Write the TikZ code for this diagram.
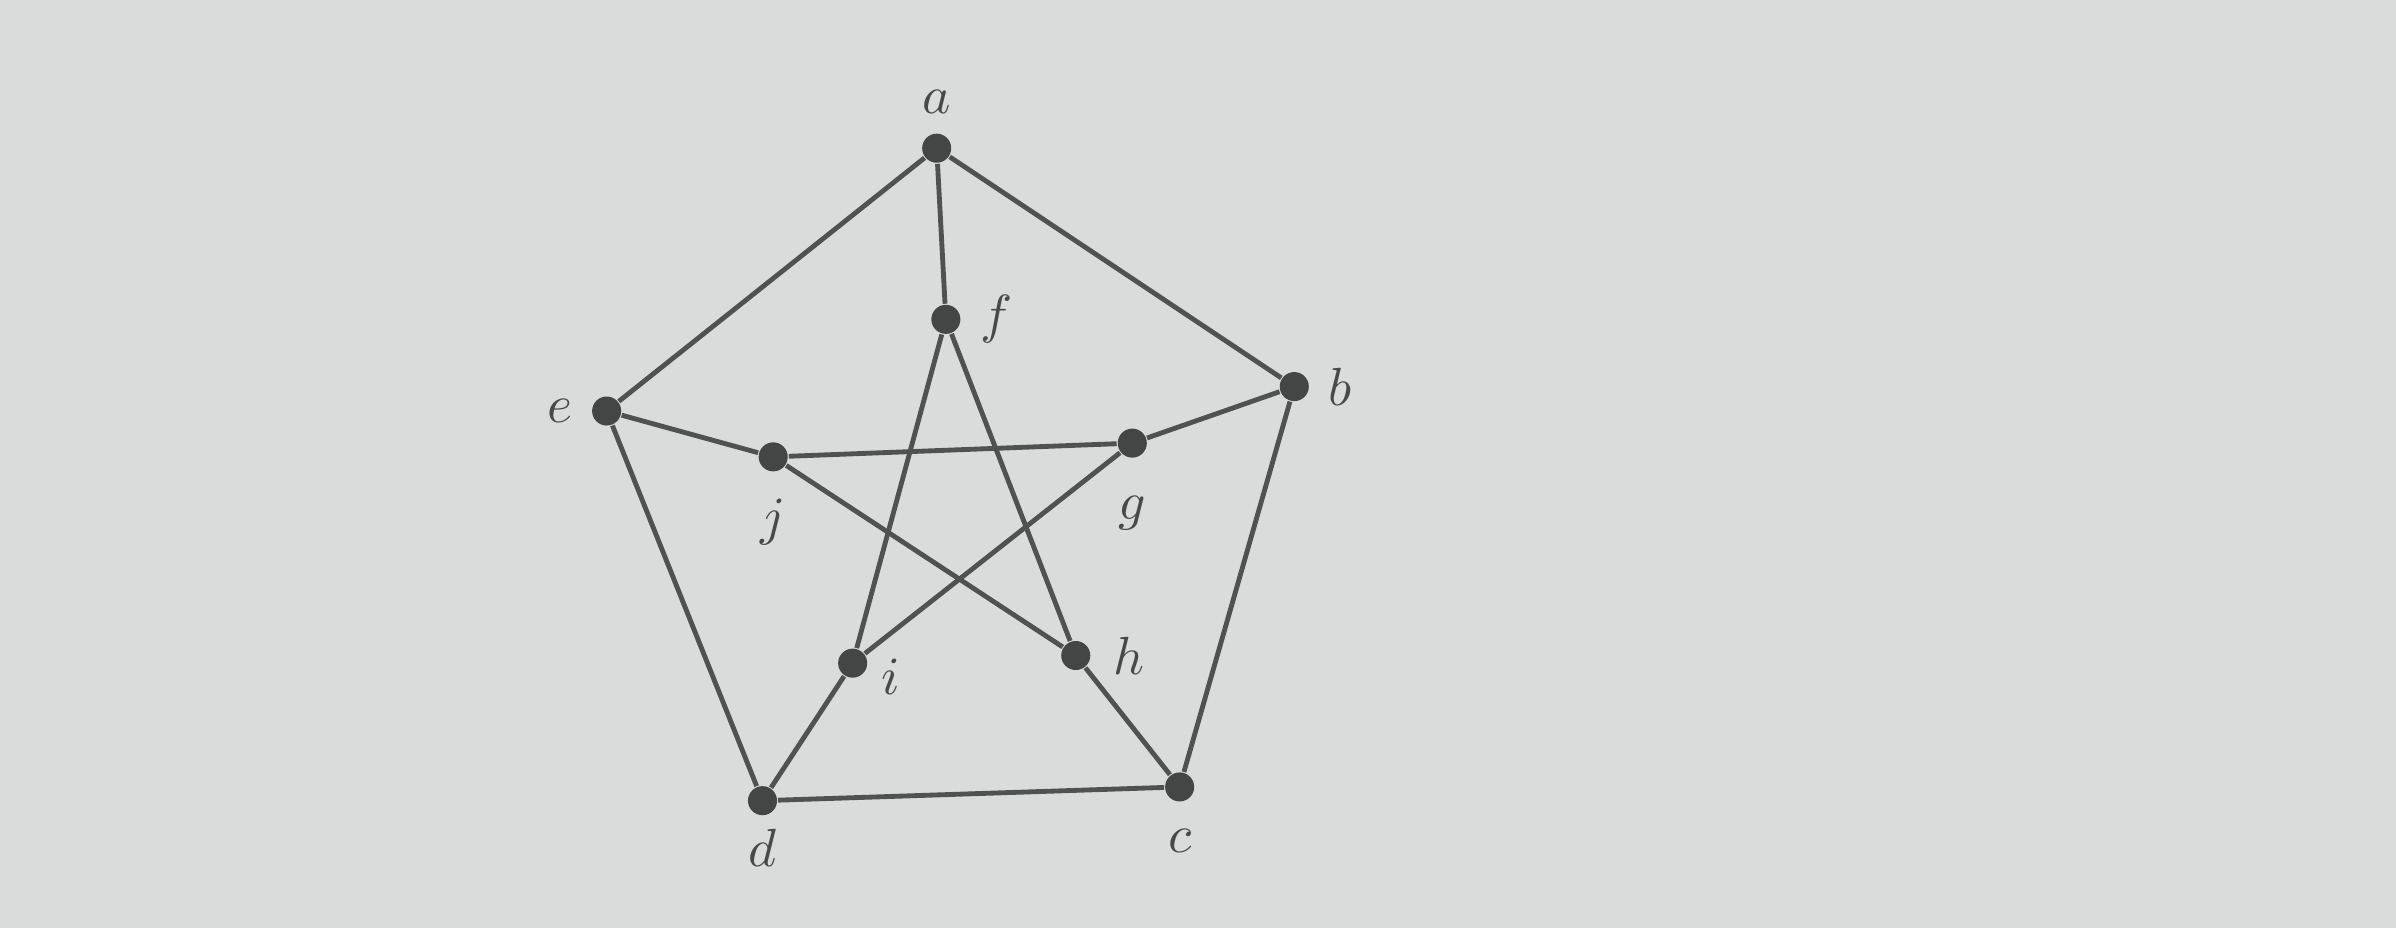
\documentclass[tikz,border=0pt]{standalone}
\usepackage{xcolor}
\usepackage{tikz}
\usetikzlibrary{positioning}
\definecolor{paper}{HTML}{D9DCDA}
\definecolor{ink}{HTML}{505252}
\definecolor{dotc}{HTML}{444646}

\begin{document}
\begin{tikzpicture}[
  x=0.01cm, y=-0.01cm,
  vtx/.style={circle, fill=dotc, inner sep=0pt, minimum size=0.19cm,
              label distance=0.03cm},
  lbl/.style={font=\fontsize{10}{11}\selectfont, text=ink!90!black},
  edge/.style={draw=ink, line width=0.9pt}
]
  \fill[paper] (0,0) rectangle (1568,607);
  \useasboundingbox (0,0) rectangle (1568,607);
  % outer pentagon
  \node[vtx, label={[lbl]above:$a$}] (a) at (613,97) {};
  \node[vtx, label={[lbl, label distance=0cm]right:$b$}] (b) at (847,253) {};
  \node[vtx, label={[lbl, label distance=0.05cm]below:$c$}] (c) at (772,515) {};
  \node[vtx, label={[lbl, label distance=-0.04cm]below:$d$}] (d) at (499,524) {};
  \node[vtx, label={[lbl]left:$e$}] (e) at (397,269) {};
  % inner star
  \node[vtx, label={[lbl, label distance=0cm]right:$f$}] (f) at (619,209) {};
  \node[vtx, label={[lbl, label distance=0.12cm]below:$g$}] (g) at (741,290) {};
  \node[vtx, label={[lbl, label distance=0.02cm]right:$h$}] (h) at (704,429) {};
  \node[vtx, label={[lbl, label distance=-0.04cm, yshift=-0.09cm]right:$i$}] (i) at (558,434) {};
  \node[vtx, label={[lbl, label distance=0.05cm]below:$j$}] (j) at (506,299) {};
  \draw[edge] (a) -- (b) -- (c) -- (d) -- (e) -- (a);
  \draw[edge] (a) -- (f);
  \draw[edge] (b) -- (g);
  \draw[edge] (c) -- (h);
  \draw[edge] (d) -- (i);
  \draw[edge] (e) -- (j);
  \draw[edge] (f) -- (h);
  \draw[edge] (f) -- (i);
  \draw[edge] (g) -- (i);
  \draw[edge] (g) -- (j);
  \draw[edge] (j) -- (h);
\end{tikzpicture}
\end{document}
